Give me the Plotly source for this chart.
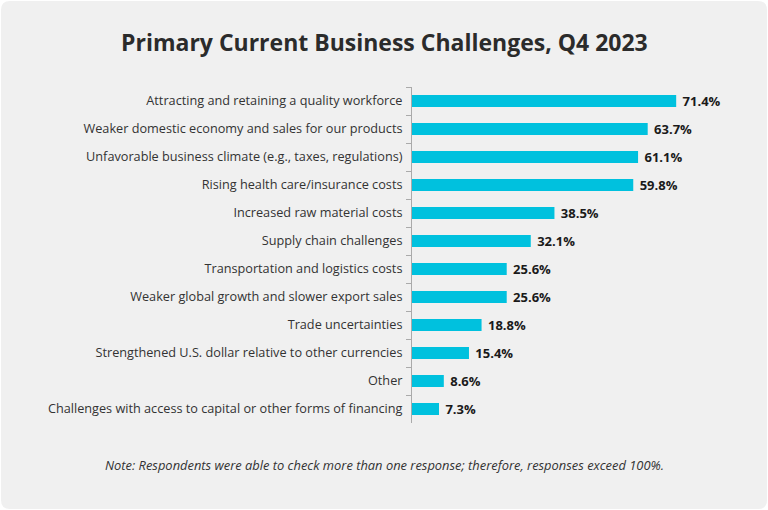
import plotly.graph_objects as go

categories = [
    "Attracting and retaining a quality workforce",
    "Weaker domestic economy and sales for our products",
    "Unfavorable business climate (e.g., taxes, regulations)",
    "Rising health care/insurance costs",
    "Increased raw material costs",
    "Supply chain challenges",
    "Transportation and logistics costs",
    "Weaker global growth and slower export sales",
    "Trade uncertainties",
    "Strengthened U.S. dollar relative to other currencies",
    "Other",
    "Challenges with access to capital or other forms of financing",
]
values = [71.4, 63.7, 61.1, 59.8, 38.5, 32.1, 25.6, 25.6, 18.8, 15.4, 8.6, 7.3]

W, H = 768, 510
L, R, T, B = 412, 28, 87, 87
pw, ph = W - L - R, H - T - B

def px(x):
    return (x - L) / pw

def py(y):
    return (H - B - y) / ph

fig = go.Figure()
fig.add_trace(go.Bar(
    x=values, y=categories, orientation="h",
    marker=dict(color="#00c1de", line=dict(width=0)),
    text=[f"\u00a0{v:.1f}%" for v in values],
    textposition="outside",
    constraintext="none",
    textfont=dict(family="Open Sans", size=13, color="#1a1a1a", weight="bold"),
    cliponaxis=False,
    width=0.43,
    hoverinfo="skip",
))

# rounded background
r = 9
x0, x1, y0, y1 = 1, 767, 1, 509
path = (f"M {px(x0+r)},{py(y0)} L {px(x1-r)},{py(y0)} Q {px(x1)},{py(y0)} {px(x1)},{py(y0+r)} "
        f"L {px(x1)},{py(y1-r)} Q {px(x1)},{py(y1)} {px(x1-r)},{py(y1)} "
        f"L {px(x0+r)},{py(y1)} Q {px(x0)},{py(y1)} {px(x0)},{py(y1-r)} "
        f"L {px(x0)},{py(y0+r)} Q {px(x0)},{py(y0)} {px(x0+r)},{py(y0)} Z")
fig.add_shape(type="path", path=path, xref="paper", yref="paper",
              fillcolor="#f0f0f0", line=dict(width=0), layer="below")

fig.add_annotation(text="Primary Current Business Challenges, Q4 2023",
                   xref="paper", yref="paper", x=px(384), y=py(42),
                   xanchor="center", yanchor="middle", showarrow=False,
                   font=dict(family="Open Sans", size=23, color="#2b2b2b", weight="bold"))
fig.add_annotation(text="<i>Note: Respondents were able to check more than one response; therefore, responses exceed 100%.</i>",
                   xref="paper", yref="paper", x=px(384), y=py(465),
                   xanchor="center", yanchor="middle", showarrow=False,
                   font=dict(family="Open Sans", size=12.9, color="#333333"))

fig.update_layout(
    width=W, height=H,
    margin=dict(l=L, r=R, t=T, b=B, autoexpand=False),
    paper_bgcolor="white", plot_bgcolor="rgba(0,0,0,0)",
    showlegend=False,
    xaxis=dict(range=[0, 88.65], visible=False, fixedrange=True),
    yaxis=dict(categoryorder="array", categoryarray=categories, autorange="reversed",
               showline=True, linecolor="#aaaaaa", linewidth=1,
               ticks="outside", tickson="boundaries", ticklen=5, tickcolor="#aaaaaa",
               tickfont=dict(family="Open Sans", size=12.7, color="#333333"),
               ticklabelstandoff=6, showgrid=False, zeroline=False),
)
fig.write_html("out.html")
